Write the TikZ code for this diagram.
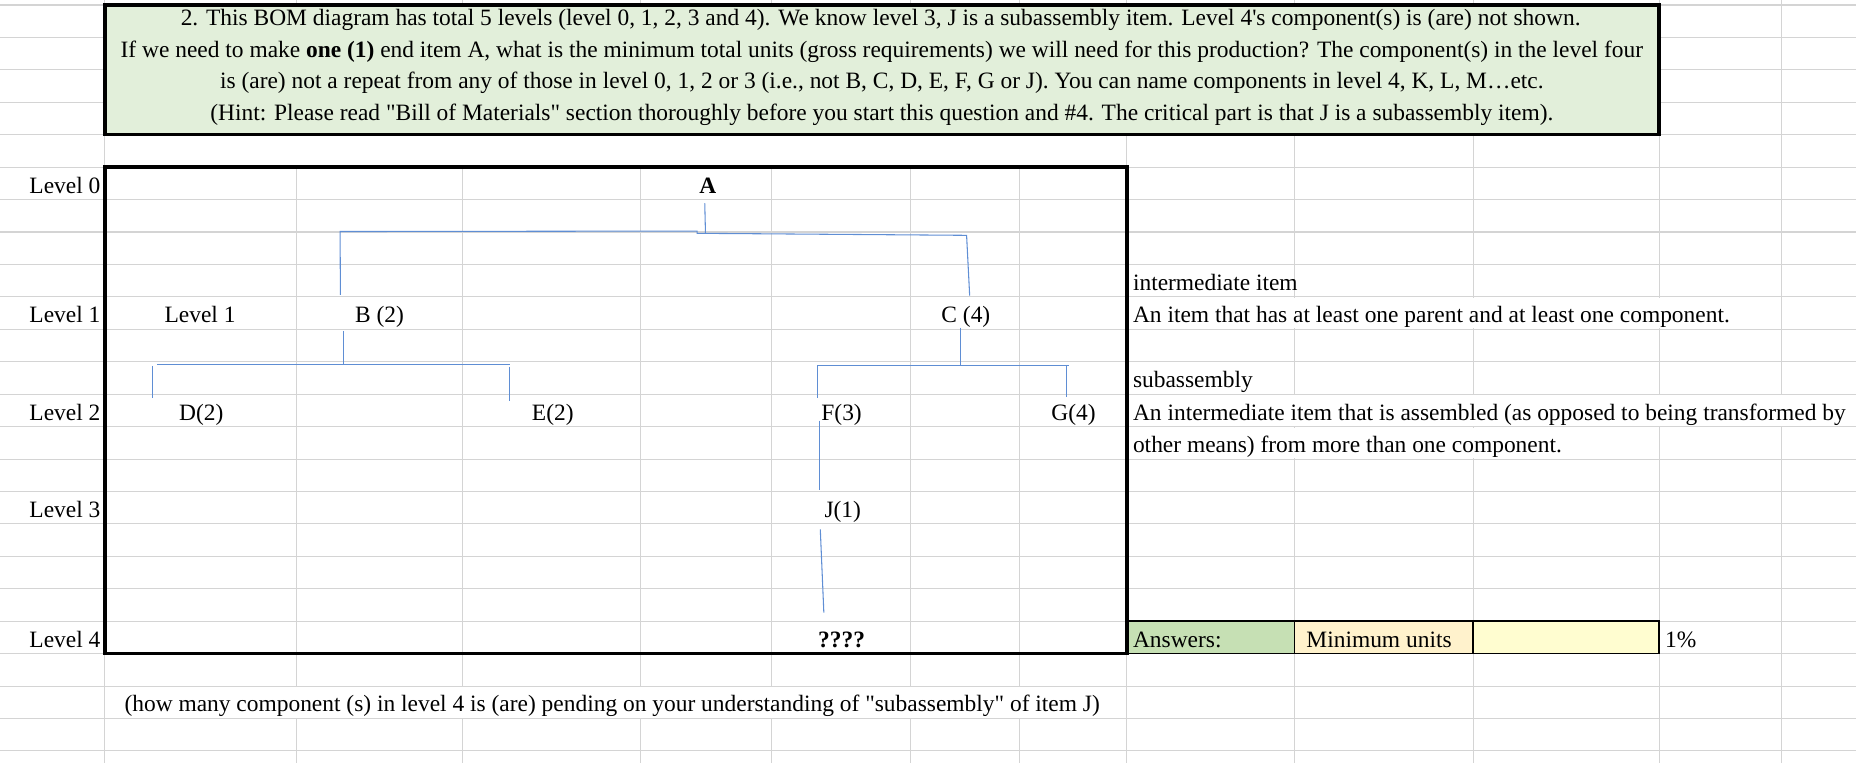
\documentclass[tikz,border=0pt]{standalone}
\usepackage{fontspec}
\newfontfamily\xserif{Liberation Serif}
\definecolor{gridc}{HTML}{D4D4D4}
\definecolor{connc}{RGB}{95,142,212}
\definecolor{hdrfill}{HTML}{E2EFDA}
\definecolor{ansfill}{HTML}{C6E0B4}
\definecolor{minfill}{HTML}{FFF2CC}
\definecolor{valfill}{HTML}{FFFDD0}
\begin{document}
\begin{tikzpicture}[x=1pt,y=-1pt,
  gridline/.style={draw=gridc, line width=0.9pt},
  maskbox/.style={fill=white, draw=none},
  framebox/.style={draw=black, line width=3pt},
  conn/.style={draw=connc, line width=0.9pt},
  txt/.style={inner sep=0pt, font=\xserif\fontsize{19.8}{23}\selectfont},
  lvl/.style={txt, anchor=base east},
  item/.style={txt, anchor=base},
  lefttxt/.style={txt, anchor=base west},
  cellbox/.style={draw=black, line width=1.4pt}]
\useasboundingbox (0,0) rectangle (1568,645);
% grid
\foreach \k in {0,...,23} \draw[gridline] (0,{4.2+27.4*\k}) -- (1568,{4.2+27.4*\k});
\foreach \x in {88.5,250.5,391,541,652,769.5,861.5,952,1093.5,1244.5,1401.6,1505}
  \draw[gridline] (\x,0) -- (\x,645);
% overflow masks
\fill[maskbox] (89.5,114.6) rectangle (951.2,140.4);
\fill[maskbox] (89.5,580.4) rectangle (951.2,606.2);
\fill[maskbox] (952.8,251.6) rectangle (1500,277.4);
\fill[maskbox] (952.8,333.8) rectangle (1568,359.6);
\fill[maskbox] (952.8,361.2) rectangle (1400.5,387);
% header
\draw[framebox, fill=hdrfill] (88.5,4.2) rectangle (1401.6,113.8);
\node[item] (h1) at (744,21.3) {2. This BOM diagram has total 5 levels (level 0, 1, 2, 3 and 4). We know level 3, J is a subassembly item. Level 4's component(s) is (are) not shown.};
\node[item] (h2) at (745,48.2) {If we need to make \textbf{one (1)} end item A, what is the minimum total units (gross requirements) we will need for this production? The component(s) in the level four};
\node[item] (h3) at (745,75.1) {is (are) not a repeat from any of those in level 0, 1, 2 or 3 (i.e., not B, C, D, E, F, G or J). You can name components in level 4, K, L, M…etc.};
\node[item] (h4) at (745,102) {(Hint: Please read "Bill of Materials" section thoroughly before you start this question and \#4. The critical part is that J is a subassembly item).};
% diagram frame
\draw[framebox] (88.5,141.2) rectangle (952,552.2);
% level labels
\node[lvl] (l0) at (85,163.1) {Level 0};
\node[lvl] (l1) at (85,272.7) {Level 1};
\node[lvl] (l2) at (85,354.9) {Level 2};
\node[lvl] (l3) at (85,437.1) {Level 3};
\node[lvl] (l4) at (85,546.7) {Level 4};
% items
\node[item] (A) at (598,163.1) {\textbf{A}};
\node[item] (lv1) at (169,272.7) {Level 1};
\node[item] (B) at (320.7,272.7) {B (2)};
\node[item] (C) at (816,272.7) {C (4)};
\node[item] (D) at (170,354.9) {D(2)};
\node[item] (E) at (467,354.9) {E(2)};
\node[item] (F) at (711,354.9) {F(3)};
\node[item] (G) at (907,354.9) {G(4)};
\node[item] (J) at (712,437.1) {J(1)};
\node[item] (Q) at (711,546.7) {\textbf{????}};
% connector coordinates
\coordinate (a1) at (595.4,171.8);
\coordinate (a2) at (596,197.1);
\coordinate (b1) at (287.6,249.2);
\coordinate (b2) at (287.3,195.6);
\coordinate (m1) at (589,195.2);
\coordinate (m2) at (589,197.1);
\coordinate (c1) at (816.6,198.8);
\coordinate (c2) at (819.2,249.8);
\coordinate (bd1) at (290,279.6);
\coordinate (bd2) at (290,308.2);
\coordinate (bh1) at (132.6,307.8);
\coordinate (bh2) at (430.9,307.8);
\coordinate (d1) at (128.6,309.2);
\coordinate (d2) at (128.6,336.5);
\coordinate (e1) at (430.3,309.7);
\coordinate (e2) at (430.3,338.5);
\coordinate (cd1) at (811.2,276.8);
\coordinate (cd2) at (811.2,308.6);
\coordinate (ch1) at (690.7,308.6);
\coordinate (ch2) at (903.5,308.6);
\coordinate (f1) at (690.7,336.5);
\coordinate (g1) at (901.1,308.6);
\coordinate (g2) at (901.1,335.7);
\coordinate (fj1) at (692.3,355.4);
\coordinate (fj2) at (692.3,414);
\coordinate (jq1) at (693,447.2);
\coordinate (jq2) at (696,517.6);
% connectors
\draw[conn] (a1) -- (a2);
\draw[conn] (b1) -- (b2) -- (m1) -- (m2) -- (c1) -- (c2);
\draw[conn] (bd1) -- (bd2);
\draw[conn] (bh1) -- (bh2);
\draw[conn] (d1) -- (d2);
\draw[conn] (e1) -- (e2);
\draw[conn] (cd1) -- (cd2);
\draw[conn] (ch1) -- (ch2);
\draw[conn] (ch1) -- (f1);
\draw[conn] (g1) -- (g2);
\draw[conn] (fj1) -- (fj2);
\draw[conn] (jq1) -- (jq2);
% bottom note
\node[lefttxt] (note) at (105,601.5) {(how many component (s) in level 4 is (are) pending on your understanding of "subassembly" of item J)};
% right texts
\node[lefttxt] (r1) at (957,245.3) {intermediate item};
\node[lefttxt] (r2) at (957,272.7) {An item that has at least one parent and at least one component.};
\node[lefttxt] (r3) at (957,327.5) {subassembly};
\node[lefttxt] (r4) at (957,354.9) {An intermediate item that is assembled (as opposed to being transformed by};
\node[lefttxt] (r5) at (957,382.3) {other means) from more than one component.};
% answers
\draw[cellbox, fill=ansfill] (952,524.8) rectangle (1093.5,552.2);
\draw[cellbox, fill=minfill] (1093.5,524.8) rectangle (1244.5,552.2);
\draw[cellbox, fill=valfill] (1244.5,524.8) rectangle (1401.6,552.2);
\draw[black, line width=3pt] (952,523.3) -- (952,553.7);
\node[lefttxt] (ans) at (957,546.7) {Answers:};
\node[lefttxt] (minu) at (1103.5,546.7) {Minimum units};
\node[lefttxt] (pct) at (1406.5,546.7) {1\%};
\end{tikzpicture}
\end{document}
